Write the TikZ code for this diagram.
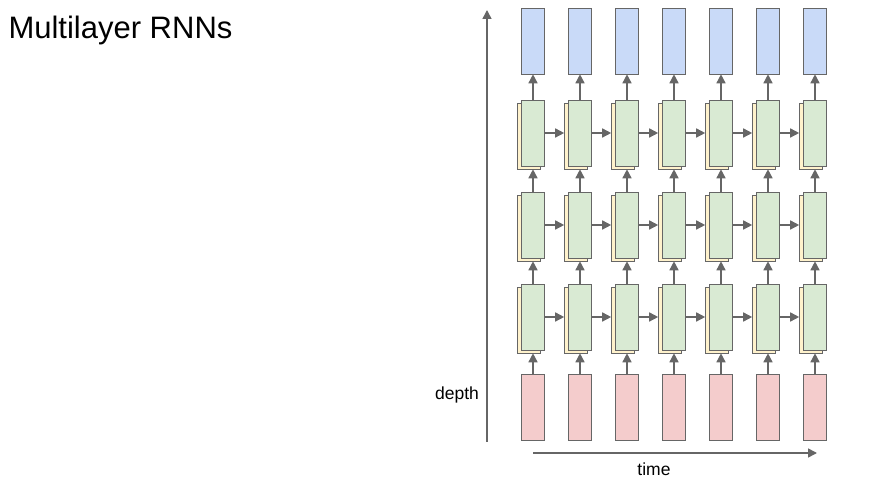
\documentclass[tikz,border=0pt]{standalone}
\usepackage{fontspec}
\setmainfont{Liberation Sans}
\usetikzlibrary{arrows.meta}
\begin{document}
\begin{tikzpicture}[x=1pt,y=-1pt,
 box/.style={draw=black!60,line width=0.6pt,minimum width=23pt,minimum height=66pt,inner sep=0pt},
 arr/.style={draw=black!60,line width=1.5pt,-{Triangle[length=9pt,width=9pt]}}]
\useasboundingbox (0,0) rectangle (887,486);
\definecolor{bl}{HTML}{C9DAF8}\definecolor{rd}{HTML}{F4CCCC}\definecolor{gr}{HTML}{D9EAD3}\definecolor{yl}{HTML}{FFF2CC}
\node[anchor=west,font=\fontsize{31}{36}\selectfont] (title) at (5,30) {Multilayer RNNs};
\foreach \i in {1,...,7}{
  \pgfmathsetmacro\cx{533+47*(\i-1)}
  \node[box,fill=bl] (b\i) at (\cx,41) {};
  \node[box,fill=rd] (r\i) at (\cx,407) {};
  \foreach \j/\cy in {1/317,2/225,3/133}{
    \node[box,fill=yl] (y\i\j) at (\cx-4,\cy+3) {};
    \node[box,fill=gr] (g\i\j) at (\cx,\cy) {};
  }
  \draw[arr] (r\i.north) -- (y\i1.south -| g\i1.south);
  \draw[arr] (g\i1.north) -- (y\i2.south -| g\i2.south);
  \draw[arr] (g\i2.north) -- (y\i3.south -| g\i3.south);
  \draw[arr] (g\i3.north) -- (b\i.south);
}
\foreach \i [evaluate=\i as \n using int(\i+1)] in {1,...,6}{
  \foreach \j in {1,2,3}{
    \draw[arr] (g\i\j.east) -- (g\i\j.east -| y\n\j.west);
  }
}
\coordinate (v0) at (487,442); \coordinate (v1) at (487,10);
\draw[arr] (v0) -- (v1);
\coordinate (h0) at (533,453); \coordinate (h1) at (817,453);
\draw[arr] (h0) -- (h1);
\node[font=\fontsize{17.5}{20}\selectfont] (depth) at (457,395) {depth};
\node[font=\fontsize{17.5}{20}\selectfont] (time) at (654,469) {time};
\end{tikzpicture}
\end{document}
